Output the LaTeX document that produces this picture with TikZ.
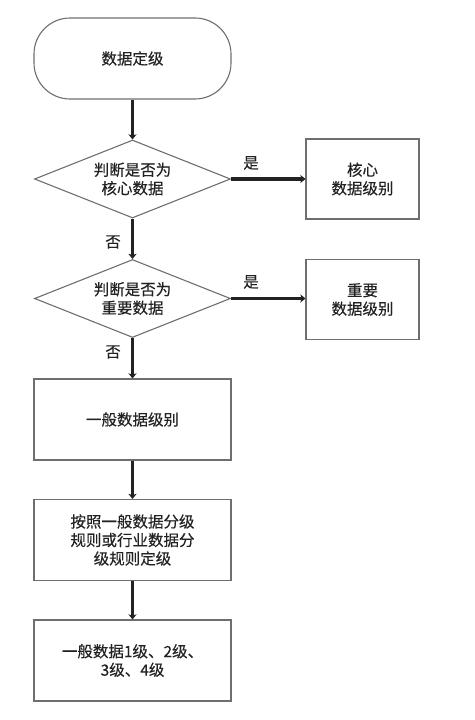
\documentclass[tikz,border=0pt]{standalone}
\usepackage{fontspec}
\setmainfont{Noto Sans CJK SC}[FakeBold=0.3]
\usetikzlibrary{shapes.geometric,arrows.meta}
\definecolor{bordergray}{HTML}{6E6E6E}
\definecolor{inkdark}{HTML}{222222}
\tikzset{
  every node/.style={font=\fontsize{15.5}{18.5}\selectfont, text=inkdark, align=center},
  boxnode/.style={draw=bordergray, line width=1.1pt, rectangle, minimum width=197pt, minimum height=81pt, inner sep=0pt},
  sidebox/.style={draw=bordergray, line width=1.1pt, rectangle, minimum width=113pt, minimum height=80pt, inner sep=0pt},
  termnode/.style={draw=bordergray, line width=1.1pt, rectangle, rounded corners=36pt, minimum width=197pt, minimum height=81pt, inner sep=0pt},
  decnode/.style={draw=bordergray, line width=1.1pt, diamond, aspect=2.5, minimum width=196pt, minimum height=78pt, inner sep=0pt},
  flowarrow/.style={draw=inkdark, line width=3.6pt, -{Stealth[length=5pt,width=8pt,inset=1pt]}},
  lbl/.style={font=\fontsize{15.5}{18}\selectfont}
}
\begin{document}
\begin{tikzpicture}[x=1pt,y=-1pt]
\useasboundingbox (0,0) rectangle (474,720);
\node[termnode] (start) at (132.5,58.5) {数据定级};
\node[decnode] (d1) at (132.5,179) {判断是否为\\核心数据};
\node[sidebox] (core) at (362.5,179) {核心\\数据级别};
\node[decnode] (d2) at (132.5,298.5) {判断是否为\\重要数据};
\node[sidebox] (imp) at (362.5,299.5) {重要\\数据级别};
\node[boxnode] (gen) at (132.5,419.5) {一般数据级别};
\node[boxnode] (rule) at (132.5,540) {按照一般数据分级\\规则或行业数据分\\级规则定级};
\node[boxnode] (lvl) at (132.5,660.5) {一般数据1级、2级、\\3级、4级};

\draw[flowarrow] (start.south) -- (d1.north);
\draw[flowarrow] (d1.east) -- (core.west);
\draw[flowarrow] (d1.south) -- (d2.north);
\draw[flowarrow] (d2.east) -- (d2.east -| imp.west);
\draw[flowarrow] (d2.south) -- (gen.north);
\draw[flowarrow] (gen.south) -- (rule.north);
\draw[flowarrow] (rule.south) -- (lvl.north);

\node[lbl] (yes1) at (251,163) {是};
\node[lbl] (yes2) at (251,282) {是};
\node[lbl] (no1) at (113,242) {否};
\node[lbl] (no2) at (113,352) {否};
\end{tikzpicture}
\end{document}
